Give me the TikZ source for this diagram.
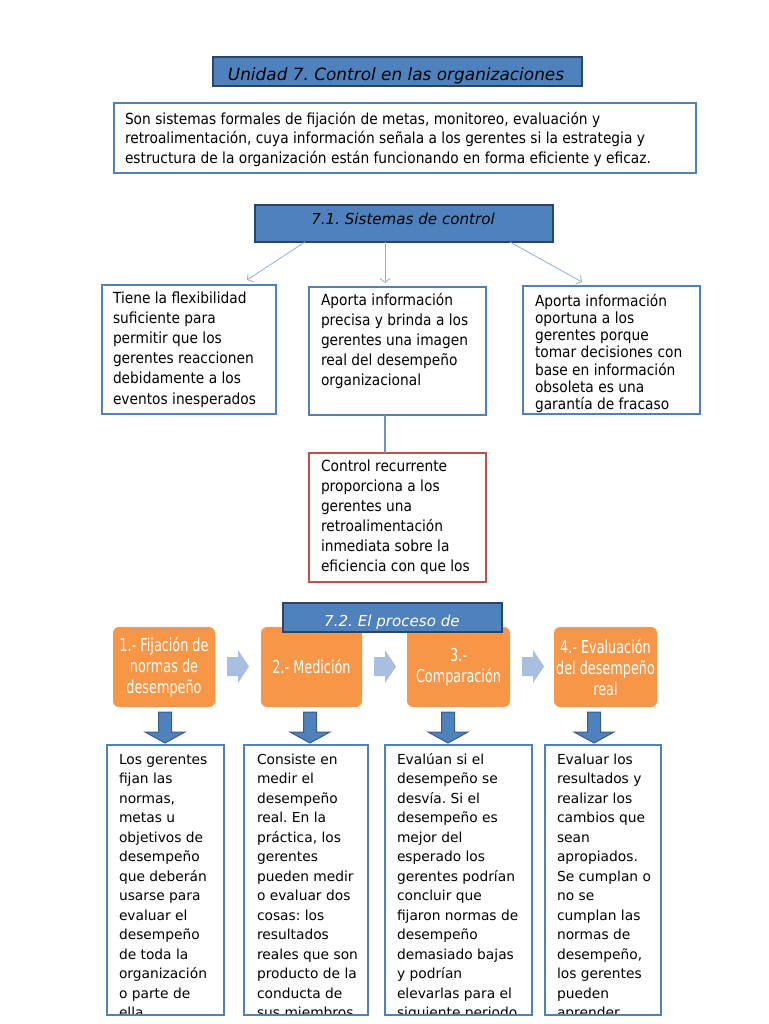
\documentclass[tikz,border=0pt]{standalone}
\usepackage{fontspec}
\setmainfont{DejaVu Sans}
\newfontfamily\condf[FakeStretch=0.9]{DejaVu Sans}
\newfontfamily\narrowf[FakeStretch=0.72]{DejaVu Sans}
\usetikzlibrary{arrows.meta}
\definecolor{hdrblue}{HTML}{4F81BD}
\definecolor{hdrdark}{HTML}{26466F}
\definecolor{boxblue}{HTML}{4F81BD}
\definecolor{linkblue}{HTML}{92B0DA}
\definecolor{redb}{HTML}{C0504D}
\definecolor{orangef}{HTML}{F79646}
\definecolor{chev}{HTML}{A9BFE0}
\definecolor{arrdark}{HTML}{385D8A}
\frenchspacing
\tikzset{
  boxfill/.style={rectangle, fill=white, inner sep=0pt, outer sep=0pt},
  hdrfill/.style={rectangle, fill=hdrblue, inner sep=0pt, outer sep=0pt},
  boxline/.style={draw=boxblue, line width=2pt},
  redline/.style={draw=redb, line width=2pt},
  hdrline/.style={draw=hdrdark, line width=2pt},
  orangebox/.style={rectangle, fill=orangef, rounded corners=6pt, inner sep=0pt, outer sep=0pt,
     text=white, align=center, font=\narrowf\fontsize{17.8}{21}\selectfont},
  txt/.style={anchor=north west, inner sep=0pt, outer sep=0pt, align=left},
  uptxt/.style={txt, font=\condf\fontsize{15.3}{#1}\selectfont},
  lowtxt/.style={txt, font=\fontsize{13.8}{19.5}\selectfont},
  hdrtxt/.style={anchor=base, inner sep=0pt, outer sep=0pt, font=\itshape\fontsize{#1}{20}\selectfont},
  conn/.style={draw=linkblue, line width=0.8pt, -{Straight Barb[length=4pt,width=10pt]}},
  chevron/.style={fill=chev},
  downarrow/.style={fill=hdrblue, draw=arrdark, line width=1pt},
}
\begin{document}
\begin{tikzpicture}[x=1pt,y=-1pt]
\path[use as bounding box, fill=white] (0,0) rectangle (768,1024);

% Title
\node[hdrfill, minimum width=369, minimum height=29] (title) at (397.5,71.5) {};
\begin{scope}
\clip (title.south west) rectangle (title.north east);
\node[hdrtxt=16.9] (titlet) at (396,80.7) {Unidad 7. Control en las organizaciones};
\end{scope}
\draw[hdrline] (title.south west) rectangle (title.north east);

% Definition
\node[boxfill, minimum width=582, minimum height=70] (def) at (405,138) {};
\node[uptxt=19.6] (deft) at (125,110.3) {\strut Son sistemas formales de fijación de metas, monitoreo, evaluación y\\retroalimentación, cuya información señala a los gerentes si la estrategia y\\estructura de la organización están funcionando en forma eficiente y eficaz.};
\draw[boxline] (def.south west) rectangle (def.north east);

% 7.1
\node[hdrfill, minimum width=298, minimum height=37] (s71) at (404,223.5) {};
\node[hdrtxt=15.1] (s71t) at (403,225) {7.1. Sistemas de control};
\draw[hdrline] (s71.south west) rectangle (s71.north east);

% Box A
\node[boxfill, minimum width=174, minimum height=129] (A) at (189,349.5) {};
\begin{scope}
\clip (A.south west) rectangle (A.north east);
\node[uptxt=20.2] (At) at (113,288.9) {\strut Tiene la flexibilidad\\suficiente para\\permitir que los\\gerentes reaccionen\\debidamente a los\\eventos inesperados};
\end{scope}
\draw[boxline] (A.south west) rectangle (A.north east);

% Box B
\node[boxfill, minimum width=177, minimum height=128] (B) at (397.5,351) {};
\node[uptxt=19.8] (Bt) at (321,292.1) {\strut Aporta información\\precisa y brinda a los\\gerentes una imagen\\real del desempeño\\organizacional};
\draw[boxline] (B.south west) rectangle (B.north east);

% Box C
\node[boxfill, minimum width=177, minimum height=128] (C) at (611.5,350) {};
\begin{scope}
\clip (C.south west) rectangle (C.north east);
\node[uptxt=17.2] (Ct) at (535,294) {\strut Aporta información\\oportuna a los\\gerentes porque\\tomar decisiones con\\base en información\\obsoleta es una\\garantía de fracaso};
\end{scope}
\draw[boxline] (C.south west) rectangle (C.north east);

% Red box
\node[boxfill, minimum width=177, minimum height=129] (R) at (397.5,517.5) {};
\node[uptxt=20] (Rt) at (321,457) {\strut Control recurrente\\proporciona a los\\gerentes una\\retroalimentación\\inmediata sobre la\\eficiencia con que los};
\draw[redline] (R.south west) rectangle (R.north east);

% connectors
\draw[conn] ([xshift=-99pt]s71.south) -- ([xshift=58pt,yshift=5pt]A.north);
\draw[conn] ([xshift=-19pt]s71.south) -- ([xshift=-12.5pt,yshift=4pt]B.north);
\draw[conn] ([xshift=106pt]s71.south) -- ([xshift=-29.5pt,yshift=4pt]C.north);
\draw[draw=boxblue!85, line width=1.2pt] ([xshift=-12.5pt]B.south) -- ([xshift=-12.5pt]R.north);

% Orange process boxes
\node[orangebox, minimum width=102, minimum height=80] (O1) at (164,667) {1.- Fijación de\\normas de\\desempeño};
\node[orangebox, minimum width=101, minimum height=80] (O2) at (311.5,667) {2.- Medición};
\node[orangebox, minimum width=103, minimum height=80] (O3) at (458.5,667) {3.-\\Comparación};
\node[orangebox, minimum width=103, minimum height=80] (O4) at (605.5,667) {4.- Evaluación\\del desempeño\\real};

% chevrons
\foreach \xa in {227,374,522}{
  \fill[chevron] (\xa,657) -- (\xa+11,657) -- (\xa+11,650) -- (\xa+22,666.5) -- (\xa+11,683) -- (\xa+11,676) -- (\xa,676) -- cycle;
}

% 7.2
\node[hdrfill, minimum width=219, minimum height=29] (s72) at (392.5,617.5) {};
\node[hdrtxt=15.1, text=white] (s72t) at (392,626) {7.2. El proceso de};
\draw[hdrline] (s72.south west) rectangle (s72.north east);

% down arrows
\foreach \xc in {165,310,448,594}{
  \draw[downarrow] (\xc-6.5,712) -- (\xc+6.5,712) -- (\xc+6.5,732) -- (\xc+20,732) -- (\xc,743) -- (\xc-20,732) -- (\xc-6.5,732) -- cycle;
}

% bottom boxes
\node[boxfill, minimum width=117, minimum height=270] (b1) at (165.5,880) {};
\node[boxfill, minimum width=124, minimum height=270] (b2) at (306,880) {};
\node[boxfill, minimum width=147, minimum height=270] (b3) at (458.5,880) {};
\node[boxfill, minimum width=116, minimum height=270] (b4) at (603,880) {};
\begin{scope}
\clip (b1.south west) rectangle (b1.north east);
\node[lowtxt] (b1t) at (119,750.4) {\strut Los gerentes\\fijan las\\normas,\\metas u\\objetivos de\\desempeño\\que deberán\\usarse para\\evaluar el\\desempeño\\de toda la\\organización\\o parte de\\ella};
\end{scope}
\begin{scope}
\clip (b2.south west) rectangle (b2.north east);
\node[lowtxt] (b2t) at (257,750.4) {\strut Consiste en\\medir el\\desempeño\\real. En la\\práctica, los\\gerentes\\pueden medir\\o evaluar dos\\cosas: los\\resultados\\reales que son\\producto de la\\conducta de\\sus miembros};
\end{scope}
\begin{scope}
\clip (b3.south west) rectangle (b3.north east);
\node[lowtxt] (b3t) at (397,750.4) {\strut Evalúan si el\\desempeño se\\desvía. Si el\\desempeño es\\mejor del\\esperado los\\gerentes podrían\\concluir que\\fijaron normas de\\desempeño\\demasiado bajas\\y podrían\\elevarlas para el\\siguiente periodo};
\end{scope}
\begin{scope}
\clip (b4.south west) rectangle (b4.north east);
\node[lowtxt] (b4t) at (557,750.4) {\strut Evaluar los\\resultados y\\realizar los\\cambios que\\sean\\apropiados.\\Se cumplan o\\no se\\cumplan las\\normas de\\desempeño,\\los gerentes\\pueden\\aprender};
\end{scope}
\foreach \b in {b1,b2,b3,b4}{
  \draw[boxline] (\b.south west) rectangle (\b.north east);
}
\end{tikzpicture}
\end{document}
